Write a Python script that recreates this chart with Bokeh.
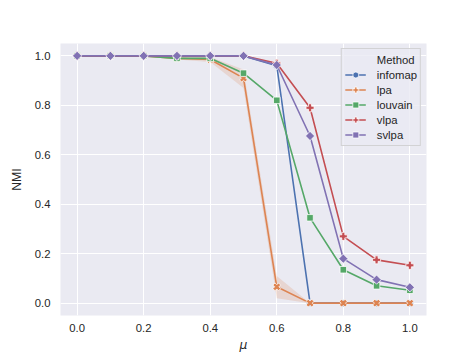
import math
from bokeh.plotting import figure
from bokeh.models import Range1d, FixedTicker, Legend, LegendItem
from bokeh.embed import file_html
from bokeh.resources import INLINE

mu = [0.0, 0.1, 0.2, 0.3, 0.4, 0.5, 0.6, 0.7, 0.8, 0.9, 1.0]
infomap = [1.0, 1.0, 1.0, 1.0, 1.0, 1.0, 0.96, 0.0, 0.0, 0.0, 0.0]
lpa = [1.0, 1.0, 1.0, 0.99, 0.985, 0.91, 0.066, 0.0, 0.0, 0.0, 0.0]
lpa_low = [1.0, 1.0, 1.0, 0.985, 0.975, 0.87, 0.02, 0.0, 0.0, 0.0, 0.0]
lpa_high = [1.0, 1.0, 1.0, 0.995, 0.995, 0.945, 0.11, 0.0, 0.0, 0.0, 0.0]
louvain = [1.0, 1.0, 1.0, 0.99, 0.99, 0.93, 0.82, 0.345, 0.135, 0.07, 0.052]
vlpa = [1.0, 1.0, 1.0, 1.0, 1.0, 1.0, 0.97, 0.79, 0.27, 0.175, 0.153]
svlpa = [1.0, 1.0, 1.0, 1.0, 1.0, 1.0, 0.963, 0.676, 0.18, 0.095, 0.064]
xticks = [0.0, 0.2, 0.4, 0.6, 0.8, 1.0]
yticks = [0.0, 0.2, 0.4, 0.6, 0.8, 1.0]

FONT = "Liberation Sans"
TXT = "#262626"

p = figure(width=474, height=355, output_backend="svg", toolbar_location=None,
           x_range=Range1d(-0.05, 1.05), y_range=Range1d(-0.05, 1.05),
           min_border_left=60, min_border_right=48, min_border_top=43, min_border_bottom=40)
p.background_fill_color = "#eaeaf2"
p.border_fill_color = "white"
p.outline_line_color = None

for ax in (p.xaxis[0], p.yaxis[0]):
    ax.axis_line_color = None
    ax.major_tick_line_color = None
    ax.minor_tick_line_color = None
    ax.major_label_text_font = FONT
    ax.major_label_text_font_size = "11.3px"
    ax.major_label_text_color = TXT
    ax.axis_label_text_font_size = "12.3px"
    ax.axis_label_text_color = TXT
    ax.major_tick_out = 0
    ax.major_tick_in = 0
p.xaxis.ticker = FixedTicker(ticks=xticks)
p.yaxis.ticker = FixedTicker(ticks=yticks)
p.xaxis.major_label_overrides = {t: f"{t:.1f}" for t in xticks}
p.yaxis.major_label_overrides = {t: f"{t:.1f}" for t in yticks}
p.xaxis.major_label_standoff = 8
p.yaxis.major_label_standoff = 10
p.xaxis.axis_label = "μ"
p.xaxis.axis_label_text_font = "DejaVu Sans"
p.xaxis.axis_label_text_font_style = "italic"
p.xaxis.axis_label_standoff = 3
p.yaxis.axis_label = "NMI"
p.yaxis.axis_label_text_font = FONT
p.yaxis.axis_label_text_font_style = "normal"
p.yaxis.axis_label_standoff = 8

for g in (p.xgrid[0], p.ygrid[0]):
    g.grid_line_color = "white"
    g.grid_line_width = 1
p.xgrid.ticker = FixedTicker(ticks=xticks)
p.ygrid.ticker = FixedTicker(ticks=yticks)

colors = {"infomap": "#4c72b0", "lpa": "#dd8452", "louvain": "#55a868",
          "vlpa": "#c44e52", "svlpa": "#8172b3"}

p.varea(x=mu, y1=lpa_low, y2=lpa_high, fill_color=colors["lpa"], fill_alpha=0.2)

series = [
    ("infomap", infomap, dict(marker="circle", size=7, angle=0)),
    ("lpa", lpa, dict(marker="plus", size=8, angle=math.pi / 4)),
    ("louvain", louvain, dict(marker="square", size=6.5, angle=0)),
    ("vlpa", vlpa, dict(marker="plus", size=8, angle=0)),
    ("svlpa", svlpa, dict(marker="square", size=6.5, angle=math.pi / 4)),
]

items = []
dummy = p.scatter(x=[0], y=[0], size=0, fill_alpha=0, line_alpha=0)
items.append(LegendItem(label="Method", renderers=[dummy]))
for name, ys, mk in series:
    c = colors[name]
    l = p.line(mu, ys, line_color=c, line_width=1.6)
    s = p.scatter(mu, ys, fill_color=c, line_color="white", line_width=0.75, **mk)
    items.append(LegendItem(label=name, renderers=[l, s]))

legend = Legend(items=items, location="top_right", margin=5, padding=3, spacing=0,
                label_height=15, glyph_height=15, glyph_width=21, label_standoff=11,
                label_text_font=FONT, label_text_font_size="11.3px", label_text_color=TXT,
                background_fill_color="#eaeaf2", background_fill_alpha=0.8,
                border_line_color="#cccccc", border_line_alpha=0.8, border_line_width=1)
p.add_layout(legend)

open("out.html", "w").write(file_html(p, INLINE))
